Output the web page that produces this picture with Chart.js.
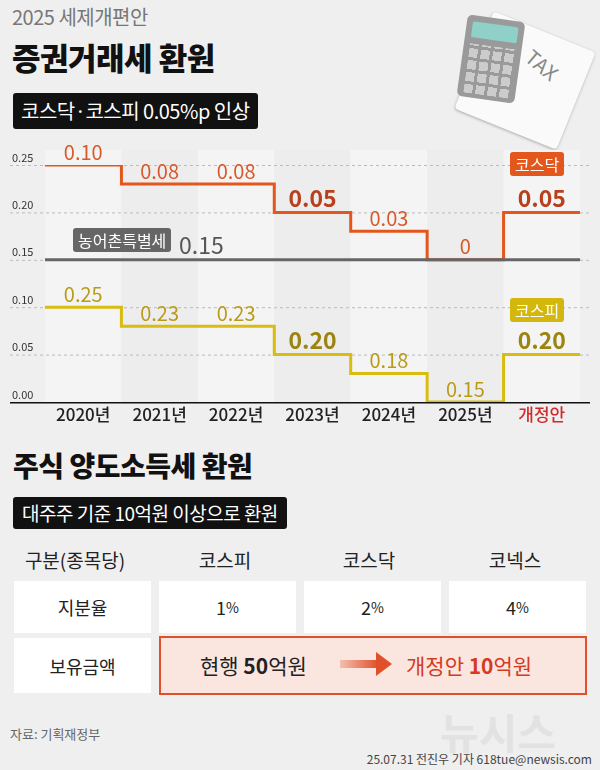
<!DOCTYPE html>
<html><head><meta charset="utf-8">
<script src="https://cdn.jsdelivr.net/npm/chart.js@4"></script>
<style>
body{margin:0;background:#efefef;font-family:"Noto Sans CJK KR",sans-serif;}
#wrap{position:relative;width:600px;height:770px;overflow:hidden;background:#efefef;}
.abs{position:absolute;}
.badge{position:absolute;color:#fff;font-size:16px;padding:0 5px;border-radius:3px;line-height:24px;}
.cell{position:absolute;background:#fff;display:flex;align-items:center;justify-content:center;font-size:18px;color:#222;}
.hd{position:absolute;top:546px;font-size:19px;color:#222;transform:translateX(-50%);}
</style></head><body>
<div id="wrap">
  <div class="abs" style="left:12px;top:2px;font-size:20px;color:#777;letter-spacing:-0.5px;">2025 세제개편안</div>
  <div class="abs" style="left:12px;top:34px;font-size:31px;font-weight:900;color:#111;letter-spacing:-0.5px;">증권거래세 환원</div>
  <div class="abs" style="left:13px;top:93px;background:#111;color:#fff;font-size:20px;padding:0 8px;border-radius:3px;line-height:36px;height:36px;letter-spacing:-0.5px;">코스닥·코스피 0.05%p 인상</div>
  <div class="abs" style="left:470px;top:28px;width:110px;height:105px;background:#fafafa;transform:rotate(22deg);border-radius:4px;box-shadow:0 1px 3px #aaa;"></div>
  <div class="abs" style="left:525px;top:50px;font-size:20px;color:#888;transform:rotate(40deg);">TAX</div>
  <div class="abs" style="left:462px;top:18px;width:58px;height:82px;background:#9a9a9a;border-radius:5px;transform:rotate(8deg);">
    <div style="margin:6px;height:16px;background:#8fd0c8;border-radius:2px;"></div>
    <div style="margin:4px 6px;height:50px;background:repeating-linear-gradient(90deg,#ccc 0 9px,transparent 9px 12px);-webkit-mask:repeating-linear-gradient(0deg,#000 0 9px,transparent 9px 12px);"></div>
  </div>

  <canvas id="c" class="abs" style="left:0;top:140px;" width="600" height="300"></canvas>
  <div class="badge" style="left:510px;top:152px;background:#e4571c;">코스닥</div>
  <div class="badge" style="left:510px;top:298px;background:#d3b70c;">코스피</div>
  <div class="badge" style="left:73px;top:228px;background:#666;">농어촌특별세</div>

  <div class="abs" style="left:13px;top:445px;font-size:28px;font-weight:900;color:#111;letter-spacing:-0.5px;">주식 양도소득세 환원</div>
  <div class="abs" style="left:13px;top:497px;background:#111;color:#fff;font-size:19px;padding:0 9px;border-radius:3px;line-height:32px;height:32px;letter-spacing:-0.5px;">대주주 기준 10억원 이상으로 환원</div>

  <div class="hd" style="left:75px;">구분(종목당)</div>
  <div class="hd" style="left:225px;">코스피</div>
  <div class="hd" style="left:369px;">코스닥</div>
  <div class="hd" style="left:515px;">코넥스</div>
  <div class="cell" style="left:14px;top:581px;width:137px;height:52px;">지분율</div>
  <div class="cell" style="left:159px;top:581px;width:137px;height:52px;">1<span style="font-size:14px">%</span></div>
  <div class="cell" style="left:304px;top:581px;width:137px;height:52px;">2<span style="font-size:14px">%</span></div>
  <div class="cell" style="left:449px;top:581px;width:137px;height:52px;">4<span style="font-size:14px">%</span></div>
  <div class="cell" style="left:14px;top:638px;width:137px;height:55px;">보유금액</div>
  <div class="abs" style="left:159px;top:636px;width:424px;height:55px;background:#fbe6df;border:2px solid #e0502a;"></div>
  <div class="abs" style="left:200px;top:650px;font-size:21px;color:#222;">현행 <b>50</b>억원</div>
  <div class="abs" style="left:340px;top:660px;width:38px;height:8px;background:linear-gradient(90deg,#f2c0b0,#e0502a);"></div>
  <div class="abs" style="left:376px;top:652px;width:0;height:0;border-top:12px solid transparent;border-bottom:12px solid transparent;border-left:16px solid #e0502a;"></div>
  <div class="abs" style="left:406px;top:650px;font-size:21px;color:#d63a22;">개정안 <b>10</b>억원</div>

  <div class="abs" style="left:440px;top:700px;font-size:42px;font-weight:bold;color:#e2e2e2;">뉴시스</div>
  <div class="abs" style="left:10px;top:724px;font-size:13px;color:#666;">자료: 기획재정부</div>
  <div class="abs" style="right:8px;top:750px;font-size:12px;color:#444;">25.07.31 전진우 기자 618tue@newsis.com</div>
</div>
<script>
const categories=["2020년","2021년","2022년","2023년","2024년","2025년","개정안"];
const kosdaqPlot=[0.25,0.23,0.23,0.20,0.18,0.15,0.20];
const kosdaqLabels=["0.10","0.08","0.08","0.05","0.03","0","0.05"];
const kospiPlot=[0.10,0.08,0.08,0.05,0.03,0.00,0.05];
const kospiLabels=["0.25","0.23","0.23","0.20","0.18","0.15","0.20"];
const farmTax=0.15;
const boldIdx=[3,6];
const yTicks=[0,0.05,0.10,0.15,0.20,0.25];

function stepPts(v){const p=v.map((y,i)=>({x:i,y}));p.push({x:v.length,y:v[v.length-1]});return p;}
const N=categories.length;
const NF='"Liberation Sans Narrow","Noto Sans CJK KR",sans-serif';

const plug={id:'deco',
 beforeDatasetsDraw(ch){const {ctx,chartArea:a,scales:{x,y}}=ch;
  for(let i=0;i<N;i++){ctx.fillStyle=i%2?'#ededed':'#f4f4f4';
   ctx.fillRect(x.getPixelForValue(i),10,x.getPixelForValue(i+1)-x.getPixelForValue(i),a.bottom-10);}
  ctx.save();ctx.setLineDash([3,3]);ctx.strokeStyle='#bbb';ctx.lineWidth=1;
  yTicks.forEach(t=>{const py=y.getPixelForValue(t);ctx.beginPath();ctx.moveTo(10,py+.5);ctx.lineTo(590,py+.5);ctx.stroke();
   ctx.fillStyle='#333';ctx.font='11px '+NF;ctx.textAlign='left';ctx.textBaseline='bottom';ctx.fillText(t.toFixed(2),12,py-2);});
  ctx.restore();
  ctx.fillStyle='#111';ctx.fillRect(10,a.bottom,580,1.5);
  ctx.textAlign='center';ctx.textBaseline='top';
  categories.forEach((c,i)=>{ctx.font='500 17px '+NF;ctx.fillStyle=i==N-1?'#d02a2a':'#222';ctx.fillText(c,x.getPixelForValue(i+.5),a.bottom+4);});
 },
 afterDatasetsDraw(ch){const {ctx,scales:{x,y}}=ch;ctx.textAlign='center';ctx.textBaseline='bottom';
  const lab=(arr,vals,col,bcol)=>arr.forEach((t,i)=>{const b=boldIdx.includes(i);
   ctx.font=(b?'bold 23px ':'20px ')+NF;ctx.fillStyle=b?bcol:col;ctx.fillText(t,x.getPixelForValue(i+.5),y.getPixelForValue(vals[i])-3);});
  lab(kosdaqLabels,kosdaqPlot,'#d8592a','#b8401c');
  lab(kospiLabels,kospiPlot,'#b89c18','#9c8410');
  ctx.font='23px '+NF;ctx.fillStyle='#555';ctx.textAlign='left';ctx.fillText(farmTax.toFixed(2),179,y.getPixelForValue(farmTax)-3);
 }};

new Chart(document.getElementById('c'),{type:'line',
 data:{datasets:[
  {data:[{x:0,y:farmTax},{x:N,y:farmTax}],borderColor:'#666',borderWidth:3,pointRadius:0},
  {data:stepPts(kosdaqPlot),stepped:'before',borderColor:'#e4571c',borderWidth:3,pointRadius:0},
  {data:stepPts(kospiPlot),stepped:'before',borderColor:'#d8bc10',borderWidth:3,pointRadius:0}
 ]},
 options:{responsive:false,animation:false,events:[],
  layout:{padding:{left:45,right:20,top:25,bottom:38}},
  plugins:{legend:{display:false},tooltip:{enabled:false}},
  scales:{x:{type:'linear',min:0,max:N,display:false},
          y:{min:0,max:0.25,display:false}}},
 plugins:[plug]});
</script>
</body></html>
